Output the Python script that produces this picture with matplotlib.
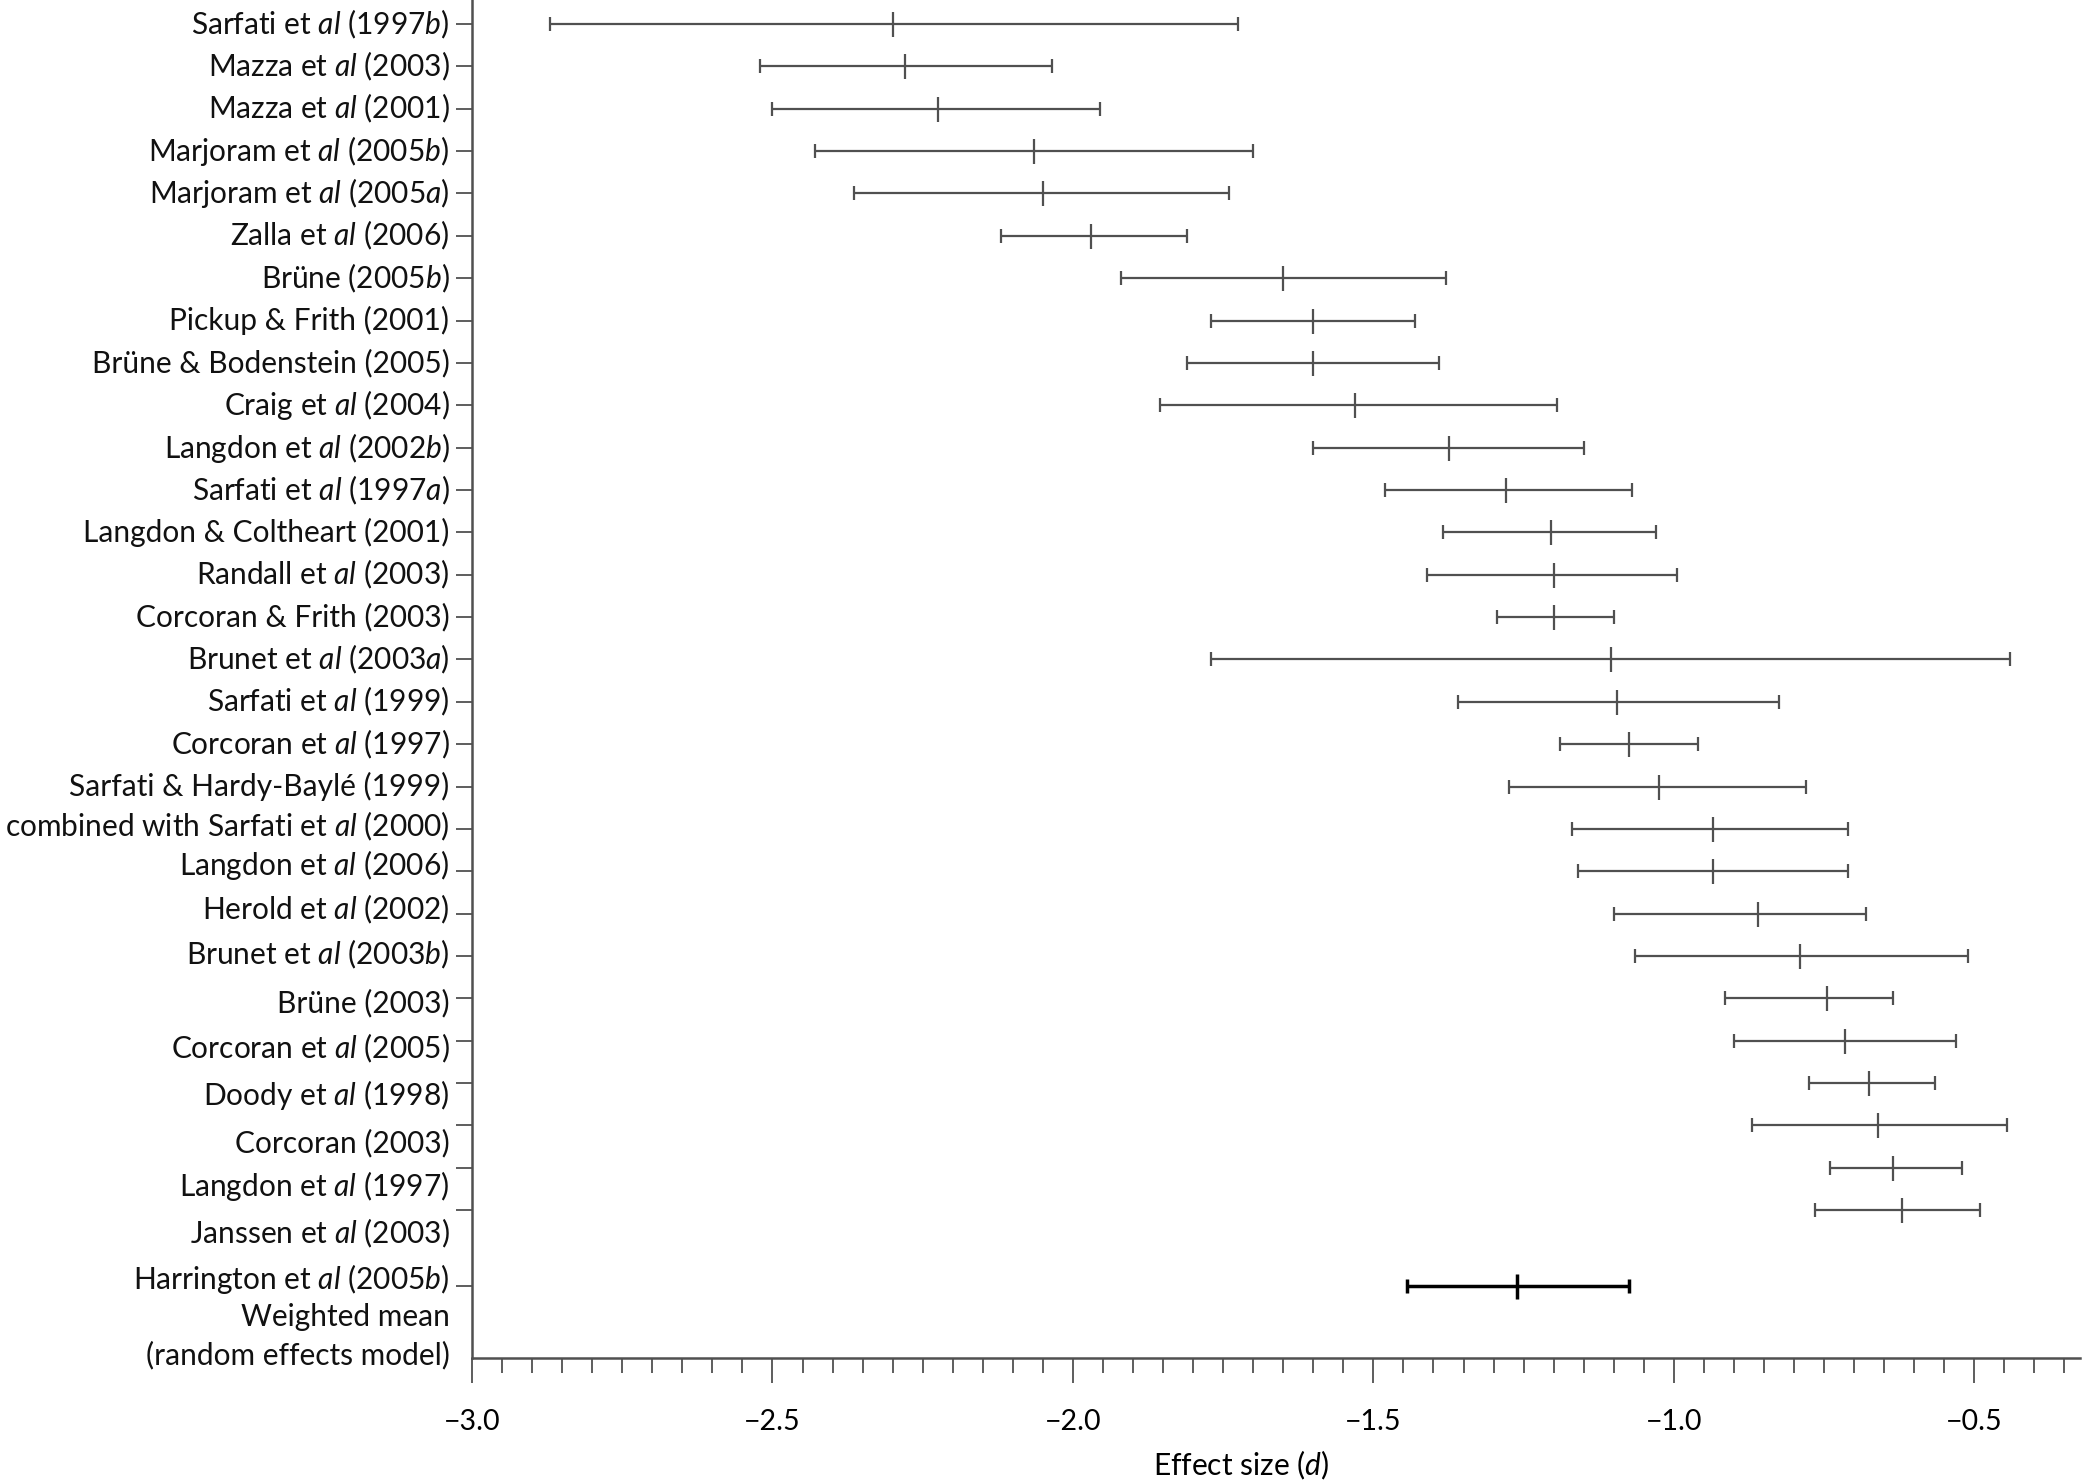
import numpy as np
import matplotlib
matplotlib.use("Agg")
import matplotlib.pyplot as plt

plt.rcParams['font.family'] = ['Lato', 'DejaVu Sans']
plt.rcParams['mathtext.fontset'] = 'custom'
plt.rcParams['mathtext.rm'] = 'Lato'
plt.rcParams['mathtext.it'] = 'Lato:italic'

# text lines down the left side, as printed
labels = [
    r"Sarfati et $\mathit{al}$ (1997$\mathit{b}$)",
    r"Mazza et $\mathit{al}$ (2003)",
    r"Mazza et $\mathit{al}$ (2001)",
    r"Marjoram et $\mathit{al}$ (2005$\mathit{b}$)",
    r"Marjoram et $\mathit{al}$ (2005$\mathit{a}$)",
    r"Zalla et $\mathit{al}$ (2006)",
    r"Brüne (2005$\mathit{b}$)",
    "Pickup & Frith (2001)",
    "Brüne & Bodenstein (2005)",
    r"Craig et $\mathit{al}$ (2004)",
    r"Langdon et $\mathit{al}$ (2002$\mathit{b}$)",
    r"Sarfati et $\mathit{al}$ (1997$\mathit{a}$)",
    "Langdon & Coltheart (2001)",
    r"Randall et $\mathit{al}$ (2003)",
    "Corcoran & Frith (2003)",
    r"Brunet et $\mathit{al}$ (2003$\mathit{a}$)",
    r"Sarfati et $\mathit{al}$ (1999)",
    r"Corcoran et $\mathit{al}$ (1997)",
    "Sarfati & Hardy-Baylé (1999)",
    r"combined with Sarfati et $\mathit{al}$ (2000)",
    r"Langdon et $\mathit{al}$ (2006)",
    r"Herold et $\mathit{al}$ (2002)",
    r"Brunet et $\mathit{al}$ (2003$\mathit{b}$)",
    "Brüne (2003)",
    r"Corcoran et $\mathit{al}$ (2005)",
    r"Doody et $\mathit{al}$ (1998)",
    "Corcoran (2003)",
    r"Langdon et $\mathit{al}$ (1997)",
    r"Janssen et $\mathit{al}$ (2003)",
    r"Harrington et $\mathit{al}$ (2005$\mathit{b}$)",
    "Weighted mean",
    "(random effects model)",
]
# where each text line sits (rows), they drift from the bars near the bottom
label_rows = list(range(19)) + [18.95, 19.86, 20.91, 21.97, 23.12, 24.19, 25.28,
                                26.42, 27.44, 28.54, 29.63, 30.53, 31.42]

# effect sizes (d) and 95% CI, one per bar, last one is the weighted mean
effect = [-2.30, -2.28, -2.225, -2.065, -2.05, -1.97, -1.65, -1.60, -1.60, -1.53,
          -1.375, -1.28, -1.205, -1.20, -1.20, -1.105, -1.095, -1.075, -1.025, -0.935,
          -0.935, -0.86, -0.79, -0.745, -0.715, -0.675, -0.66, -0.635, -0.62, -1.261]
lower = [-2.87, -2.52, -2.50, -2.43, -2.365, -2.12, -1.92, -1.77, -1.81, -1.855,
         -1.60, -1.48, -1.385, -1.41, -1.295, -1.77, -1.36, -1.19, -1.275, -1.17,
         -1.16, -1.10, -1.065, -0.915, -0.90, -0.775, -0.87, -0.74, -0.765, -1.444]
upper = [-1.725, -2.035, -1.955, -1.70, -1.74, -1.81, -1.38, -1.43, -1.39, -1.195,
         -1.15, -1.07, -1.03, -0.995, -1.10, -0.44, -0.825, -0.96, -0.78, -0.71,
         -0.71, -0.68, -0.51, -0.635, -0.53, -0.565, -0.445, -0.52, -0.49, -1.074]

n = len(effect) - 1
rows = list(range(n)) + [29.79]

effect = np.array(effect)
lower = np.array(lower)
upper = np.array(upper)
xerr = np.vstack([effect - lower, upper - effect])

grey = "#505050"
fig = plt.figure(figsize=(20.83, 14.82), dpi=100)
ax = fig.add_axes([0.2266, 0.0837, 0.772, 0.9163])

# studies
ax.errorbar(effect[:n], rows[:n], xerr=xerr[:, :n], fmt="none", ecolor=grey,
            elinewidth=1.6, capsize=4.8, capthick=1.6)
ax.plot(effect[:n], rows[:n], ls="none", marker="|", markersize=18,
        markeredgewidth=1.6, color=grey)
# pooled estimate
ax.errorbar(effect[n:], rows[n:], xerr=xerr[:, n:], fmt="none", ecolor="black",
            elinewidth=2.5, capsize=4.8, capthick=2.5)
ax.plot(effect[n:], rows[n:], ls="none", marker="|", markersize=18,
        markeredgewidth=2.5, color="black")

ax.set_xlim(-3.0, -0.324)
ax.set_ylim(31.49, -0.567)

ax.set_xticks(np.arange(-3.0, -0.49, 0.5))
ax.set_xticks(np.arange(-3.0, -0.34, 0.05), minor=True)
ax.xaxis.set_major_formatter(
    matplotlib.ticker.FuncFormatter(lambda v, p: f"{v:.1f}".replace("-", "\u2212")))
ax.tick_params(axis="x", which="major", length=18, width=1.3, color=grey,
               labelsize=20.5, pad=19)
ax.tick_params(axis="x", which="minor", length=11, width=1.3, color=grey)

ax.set_yticks(rows)
ax.tick_params(axis="y", length=11.5, width=1.3, color=grey, labelleft=False)

for side in ["top", "right"]:
    ax.spines[side].set_visible(False)
for side in ["left", "bottom"]:
    ax.spines[side].set_color(grey)
    ax.spines[side].set_linewidth(1.8)

for txt, r in zip(labels, label_rows):
    ax.text(-0.014, r, txt, transform=ax.get_yaxis_transform(), ha="right",
            va="center", fontsize=21.5, color="#111111")

ax.set_xlabel(r"Effect size ($\mathit{d}$)", fontsize=21.5, va="center")
ax.xaxis.set_label_coords(0.478, -0.079)

fig.savefig("out.png", dpi=100)
